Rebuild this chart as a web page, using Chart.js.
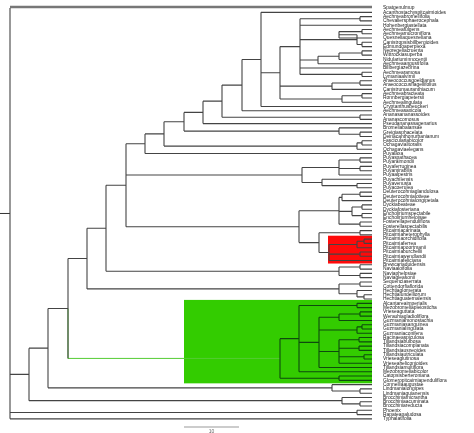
<!DOCTYPE html>
<html>
<head>
<meta charset="utf-8">
<script src="https://cdn.jsdelivr.net/npm/chart.js@4"></script>
<style>
html, body { margin: 0; padding: 0; background: #fff; }
#wrap { width: 474px; height: 433px; }
</style>
</head>
<body>
<div id="wrap"><canvas id="tree"></canvas></div>
<script>
// tree: [node depth, ...children], a string is a leaf (all leaves end at tipDepth)
const tipDepth = 370;
const tree = [8,
  'Spatgenulmup',
  [27,
    [46,
      [66,
        [85,
          [104,
            [124,
              [143,
                [162,
                  [182,
                    [201,
                      [220,
                        [240,
                          [259,
                            'Acanthostachyspitcairnioides',
                            [278,
                              [298,
                                [358, 'Aechmeabromeliifolia', 'Chevaliersphaerocephala'],
                                'Hohenbergiastellata',
                                [355,
                                  [337, [360, 'Aechmeafulgens', 'Aechmeamucroniflora'], 'Quesneliaquesneliana'],
                                  [360, 'Canistropsisbillbergioides', 'Edmundoaperplexa']
                                ],
                                [316,
                                  [337, [360, 'Neoregeliacruenta', 'Wittrockiasuperba'], 'Nidulariuminnocentii'],
                                  'Aechmeaangustifolia'
                                ],
                                'Billbergiazebrina',
                                [360, 'Aechmearamosa', 'Lymaniaalvimii']
                              ],
                              [330, [358, 'Araeococcusgoeldianus', 'Araeococcusflagellifolius'], 'Canistrumauranthiacum'],
                              [340, [360, 'Aechmeabracteata', 'Ronnbergiapetersii'], 'Aechmealingulata']
                            ],
                            'Cryptanthusbeuckeri'
                          ],
                          'Aechmeasaxicola'
                        ],
                        [358, 'Ananasananassoides', 'Ananascomosus']
                      ],
                      'Pseudananassagenarius'
                    ],
                    [337, 'Bromeliabalansae', [358, 'Greigiasphacelata', 'Deinacanthonurbanianum']]
                  ],
                  [355, [360, 'Fasciculariabicolor', 'Ochagavialitoralis'], 'Ochagaviaelegans']
                ],
                'Puyalaxa'
              ],
              [300,
                [337, [358, 'Puyaspathacea', 'Puyaraimondii'], [358, 'Puyaferruginea', 'Puyamirabilis'], 'Puyaalpestris'],
                [320, 'Puyachilensis', [355, 'Puyavenusta', 'Puyacoerulea']]
              ],
              [297,
                [337,
                  [340, [358, 'Deuterocohniaglandulosa', 'Deuterocohnialotteae'], 'Deuterocohnialongipetala'],
                  [350, [360, 'Dyckiabeateae', 'Dyckiafosteriana'], [360, 'Encholiriumspectabile', 'Encholiriumheloisae']],
                  [358, 'Fosterellapenduliflora', 'Fosterellaspectabilis']
                ],
                [317,
                  [358, 'Pitcairniacarinata', 'Pitcairniaheterophylla'],
                  [327,
                    [355, [362, 'Pitcairniaorchidifolia', 'Pitcairniaferrea'], 'Pitcairniapoortmanii'],
                    [358, 'Pitcairniaburchellii', 'Pitcairniawendlandii'],
                    'Pitcairniafeliciana'
                  ]
                ]
              ]
            ],
            [337, [358, 'Brewcariaduidensis', 'Naviaaloifolia'], [358, 'Naviaphelpsiae', 'Naviagleasonii']]
          ],
          [337, [358, 'Sequenciaserrata', 'Cottendorfiaflorida'], [355, 'Hechtiaglomerata', [362, 'Hechtialundelliorum', 'Hechtiaguatemalensis']]]
        ],
        [278,
          [297,
            [355, 'Alcantareaimperialis', 'Mezobromeliapleiosticha'],
            [317,
              [337, [358, 'Vrieseaguttata', 'Werauhiagladioliflora'], 'Guzmaniamonostachia'],
              [355, [360, 'Guzmaniasanguinea', 'Guzmanialingulata'], 'Guzmaniaconifera'],
              [337,
                [357, 'Racinaeaspiculosa', 'Tillandsiabulbosa'],
                [357, 'Tillandsiacomplanata', 'Tillandsiausneoides'],
                [362, 'Tillandsiautriculata', 'Vrieseaglutinosa'],
                'Vrieseaheliconioides'
              ],
              'Tillandsiamultiflora'
            ],
            'Mezobromeliabicolor'
          ],
          [337, 'Catopsisberteroniana', 'Glomeropitcairniapenduliflora']
        ]
      ],
      [330, 'Connelliaaugustae', [358, 'Lindmanialongipes', 'Lindmaniaguianensis']]
    ],
    [340, 'Brocchiniamicrantha', [358, 'Brocchiniaacuminata', 'Brocchiniareducta']]
  ],
  [355, 'Phoenix', 'Rapateapaludosa'],
  'Typhalatifolia'
];
// clades that are shaded: first and last leaf of the range
const redClade = ['Pitcairniaorchidifolia', 'Pitcairniafeliciana'];
const greenClade = ['Alcantareaimperialis', 'Glomeropitcairniapenduliflora'];
const scaleBar = [182, 237];
const scaleLabel = '10';

const leaves = [];
const black = [], dark = [], light = [];

function layout(node) {
  if (typeof node === 'string') {
    leaves.push(node);
    return { y: leaves.length - 1, x: tipDepth };
  }
  const [x, ...kids] = node;
  const placed = kids.map(layout);
  const ys = placed.map(p => p.y);
  return { x, y: (Math.min(...ys) + Math.max(...ys)) / 2, kids: placed, ymin: Math.min(...ys), ymax: Math.max(...ys) };
}
const root = layout(tree);
const idx = n => leaves.indexOf(n);
const inRange = (y, r) => y >= idx(r[0]) && y <= idx(r[1]);
const inside = (n, r) => n.kids ? inRange(n.ymin, r) && inRange(n.ymax, r) : inRange(n.y, r);

function draw(n, isRoot) {
  if (!n.kids) return;
  const g = inside(n, greenClade);
  (g ? dark : black).push({ x: n.x, y: n.ymin }, { x: n.x, y: n.ymax }, { x: NaN, y: NaN });
  n.kids.forEach(k => {
    const kg = inside(k, greenClade);
    if (kg && !g) {
      // stem into the shaded clade: light green
      light.push({ x: n.x, y: k.y }, { x: n.x, y: n.y }, { x: NaN, y: NaN });
      light.push({ x: n.x, y: k.y }, { x: k.x, y: k.y }, { x: NaN, y: NaN });
    } else if (!(isRoot && k.y === 0)) {
      (kg ? dark : black).push({ x: n.x, y: k.y }, { x: k.x, y: k.y }, { x: NaN, y: NaN });
    }
    draw(k, false);
  });
}
draw(root, true);

const boxPlugin = {
  id: 'boxes',
  beforeDatasetsDraw(chart) {
    const { ctx, scales: { x, y } } = chart;
    const box = (r, x0, col) => {
      const top = y.getPixelForValue(idx(r[0]) - 0.8);
      const bot = y.getPixelForValue(idx(r[1]) + 0.7);
      ctx.fillStyle = col;
      ctx.fillRect(x.getPixelForValue(x0), top, x.getPixelForValue(tipDepth) - x.getPixelForValue(x0), bot - top);
    };
    ctx.save();
    box(redClade, 326, '#ff0a0a');
    box(greenClade, 182, '#33cc00');
    // outgroup line along the top
    ctx.strokeStyle = '#777';
    ctx.lineWidth = 2.5;
    ctx.beginPath();
    ctx.moveTo(x.getPixelForValue(root.x), y.getPixelForValue(0) - 1);
    ctx.lineTo(x.getPixelForValue(tipDepth), y.getPixelForValue(0) - 1);
    ctx.stroke();
    // root tick
    ctx.lineWidth = 1;
    ctx.strokeStyle = '#333';
    ctx.beginPath();
    ctx.moveTo(0, y.getPixelForValue(root.y));
    ctx.lineTo(x.getPixelForValue(root.x), y.getPixelForValue(root.y));
    ctx.stroke();
    // scale bar
    const sy = chart.height - 6;
    ctx.strokeStyle = '#999';
    ctx.beginPath();
    ctx.moveTo(x.getPixelForValue(scaleBar[0]), sy);
    ctx.lineTo(x.getPixelForValue(scaleBar[1]), sy);
    ctx.stroke();
    ctx.fillStyle = '#666';
    ctx.font = '5px "Liberation Sans"';
    ctx.textAlign = 'center';
    ctx.fillText(scaleLabel, x.getPixelForValue((scaleBar[0] + scaleBar[1]) / 2), sy + 6);
    ctx.restore();
  }
};

const lineSet = (data, color, w) => ({ data, showLine: true, borderColor: color, borderWidth: w, pointRadius: 0, spanGaps: false });

new Chart(document.getElementById('tree'), {
  type: 'scatter',
  data: { datasets: [lineSet(black, '#444', 1.1), lineSet(dark, '#0e4a0e', 1.1), lineSet(light, '#55cc33', 1)] },
  plugins: [boxPlugin],
  options: {
    responsive: true,
    maintainAspectRatio: false,
    animation: false,
    layout: { padding: { top: 1, bottom: 12, left: 2, right: 0 } },
    plugins: { legend: { display: false }, tooltip: { enabled: false } },
    scales: {
      x: { type: 'linear', min: 0, max: tipDepth, display: false },
      y: {
        type: 'linear', position: 'right', reverse: true,
        min: -0.5, max: leaves.length - 0.5,
        grid: { display: false }, border: { display: false },
        afterFit(s) { s.width = 102; },
        afterBuildTicks(s) { s.ticks = leaves.map((_, i) => ({ value: i })); },
        ticks: {
          autoSkip: false, padding: 3, color: '#222',
          font: { size: 4.9, family: 'Liberation Sans' },
          callback: v => leaves[v]
        }
      }
    }
  }
});
</script>
</body>
</html>
